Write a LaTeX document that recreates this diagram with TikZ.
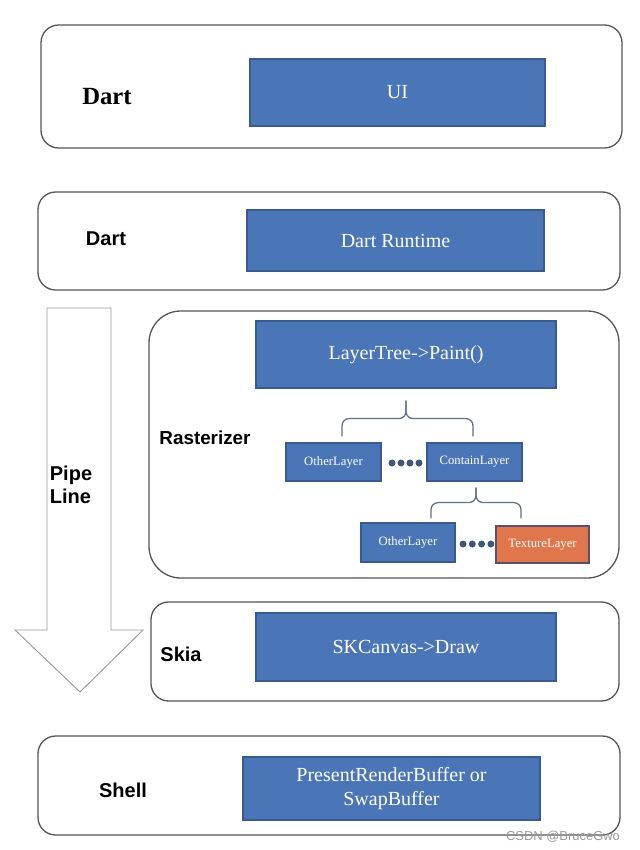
\documentclass[tikz,border=0pt]{standalone}
\usepackage{fontspec}
\setmainfont{Liberation Serif}
\setsansfont{Liberation Sans}
\usetikzlibrary{positioning,calc}

\definecolor{boxblue}{RGB}{74,117,183}
\definecolor{boxedge}{RGB}{58,90,142}
\definecolor{texorange}{RGB}{224,118,76}
\definecolor{texedge}{RGB}{90,80,110}
\definecolor{framegray}{RGB}{85,85,85}
\definecolor{dotblue}{RGB}{62,86,120}
\definecolor{bracegray}{RGB}{100,112,130}
\newcommand{\px}{0.85pt}

\begin{document}
\begin{tikzpicture}[x=\px,y=-\px,
	layer/.style={rectangle,fill=boxblue,draw=boxedge,line width=1pt,text=white,inner sep=0pt,align=center,
		font=\fontsize{17}{21}\selectfont},
	small/.style={layer,font=\fontsize{10.8}{12}\selectfont,minimum height=38*\px},
	group/.style={rectangle,draw=framegray,line width=1.1pt,fill=white},
	tag/.style={font=\sffamily\bfseries\fontsize{17}{20}\selectfont},
	brace/.style={draw=bracegray,line width=1.1pt,rounded corners=6pt},
	dot/.style={circle,fill=dotblue,inner sep=0pt,minimum size=7*\px}]

	\fill[white] (0,0) rectangle (640,850);
	\useasboundingbox (0,0) rectangle (640,850);

	% pipe line arrow
	\draw[gray!80,line width=0.8pt,fill=white] (47,308) -- (111,308) -- (111,630) -- (143,630)
		-- (80,692) -- (15,630) -- (47,630) -- cycle;
	\node[tag,align=left] (pipe) at (71,485) {Pipe\\Line};

	% groups
	\node[group,rounded corners=15pt,minimum width=581*\px,minimum height=123*\px] (gui) at (331.5,86.5) {};
	\node[group,rounded corners=15pt,minimum width=582*\px,minimum height=98*\px] (grt) at (329,241) {};
	\node[group,rounded corners=27pt,minimum width=470*\px,minimum height=267*\px] (gras) at (384,444.5) {};
	\node[group,rounded corners=15pt,minimum width=468*\px,minimum height=99*\px] (gskia) at (385,651.5) {};
	\node[group,rounded corners=15pt,minimum width=582*\px,minimum height=99*\px] (gshell) at (329,785.5) {};

	% group labels
	\node[font=\bfseries\fontsize{21}{24}\selectfont] (dart1) at (107,97) {Dart};
	\node[tag] (dart2) at (106,239) {Dart};
	\node[tag,font=\sffamily\bfseries\fontsize{16}{19}\selectfont] (ras) at (205,438) {Rasterizer};
	\node[tag] (skia) at (181,654) {Skia};
	\node[tag] (shell) at (123,790) {Shell};

	% blue boxes
	\node[layer,minimum width=295*\px,minimum height=67*\px] (ui) at (397.5,92.5) {UI};
	\node[layer,minimum width=297*\px,minimum height=61*\px] (rt) at (395.5,240.5) {Dart Runtime};
	\node[layer,minimum width=300*\px,minimum height=67*\px] (lt) at (406,354.5) {LayerTree->Paint()};
	\node[small,minimum width=95*\px] (ol1) at (333.5,462) {OtherLayer};
	\node[small,minimum width=95*\px] (cl) at (474.5,462) {ContainLayer};
	\node[small,minimum width=94*\px,minimum height=39*\px] (ol2) at (408,542.5) {OtherLayer};
	\node[small,fill=texorange,draw=texedge,minimum width=93*\px,minimum height=37*\px] (tl) at (542.5,544.5) {TextureLayer};
	\node[layer,minimum width=300*\px,minimum height=68*\px] (skc) at (406,647) {SKCanvas->Draw};
	\node[layer,minimum width=297*\px,minimum height=63*\px] (prb) at (391.5,788.5) {PresentRenderBuffer or\\SwapBuffer};

	% dots
	\foreach \i in {0,...,3}
		\node[dot] (da\i) at (392+9*\i,463) {};
	\foreach \i in {0,...,3}
		\node[dot] (db\i) at (463+9.3*\i,544) {};

	% braces
	\draw[brace] ($(ol1.north)+(8.5,-6)$) |- ($(lt.south)+(0,30)$) -- ($(lt.south)+(0,12)$);
	\draw[brace] ($(cl.north)+(-1.5,-6)$) |- ($(lt.south)+(0,30)$) -- ($(lt.south)+(0,12)$);
	\draw[brace] ($(ol2.north)+(23,-4)$) |- ($(cl.south)+(1.5,21)$) -- ($(cl.south)+(1.5,6)$);
	\draw[brace] ($(tl.north)+(-21.5,-7)$) |- ($(cl.south)+(1.5,21)$) -- ($(cl.south)+(1.5,6)$);

	\node[text=gray!80,font=\sffamily\fontsize{11}{12}\selectfont] (mark) at (563,837) {CSDN @BruceGwo};
\end{tikzpicture}
\end{document}
